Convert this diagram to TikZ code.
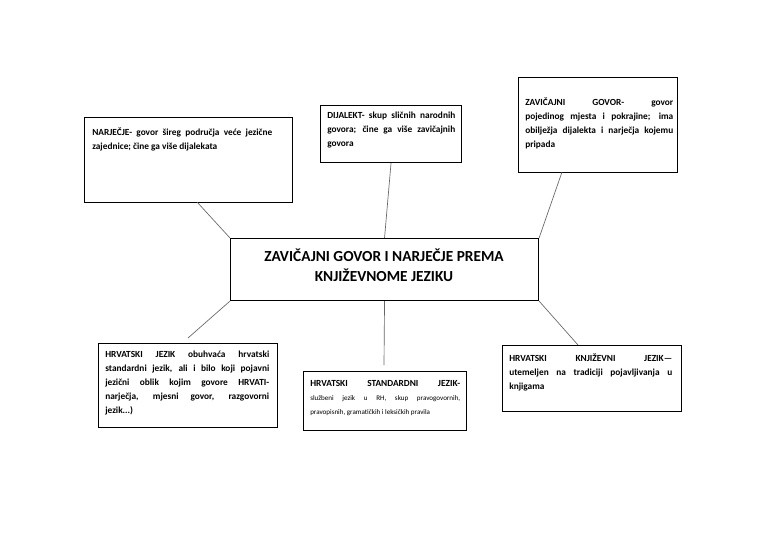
\documentclass[tikz,border=0pt]{standalone}
\usepackage{fontspec}
\setmainfont{Carlito}
\begin{document}
\begin{tikzpicture}[x=0.75pt,y=-0.75pt,
  box/.style={draw,line width=0.8pt,anchor=north west,inner sep=0pt},
  txt/.style={anchor=north west,inner sep=0pt,align=justify,font=\fontsize{7}{10.5}\selectfont\bfseries},
  conn/.style={draw=black!60,line width=0.5pt}]
\useasboundingbox (0,0) rectangle (768,543);
\fill[white] (0,0) rectangle (768,543);
\hyphenpenalty=10000 \exhyphenpenalty=10000
\newcommand\mybox[5]{\node[box,minimum width=#3*0.75pt,minimum height=#4*0.75pt] (#5) at (#1,#2) {};}
\mybox{84}{117}{208}{85}{n}
\mybox{320}{105}{141}{57}{d}
\mybox{518}{77}{159}{95}{z}
\mybox{230}{238}{308}{62}{c}
\mybox{98}{343}{179}{84}{hj}
\mybox{303}{371}{163}{59}{hs}
\mybox{502}{345}{179}{66}{hk}
\node[txt,text width=180*0.75pt] at (92,128) {NARJEČJE- govor šireg područja veće jezične\linebreak zajednice; čine ga više dijalekata};
\node[txt,text width=128*0.75pt] at (327,112) {DIJALEKT- skup sličnih narodnih\linebreak govora; čine ga više zavičajnih\linebreak govora};
\node[txt,text width=148*0.75pt] at (525,98) {ZAVIČAJNI GOVOR- govor\linebreak pojedinog mjesta i pokrajine; ima\linebreak obilježja dijalekta i narječja kojemu\linebreak pripada};
\node[font=\fontsize{11.5}{15}\selectfont\bfseries,align=center] (ct) at (384,265) {ZAVIČAJNI GOVOR I NARJEČJE PREMA\\KNJIŽEVNOME JEZIKU};
\node[txt,text width=164*0.75pt] at (105,351) {HRVATSKI JEZIK obuhvaća hrvatski\linebreak standardni jezik, ali i bilo koji pojavni\linebreak jezični oblik kojim govore HRVATI-\linebreak narječja, mjesni govor, razgovorni\linebreak jezik...)};
\node[txt,text width=150*0.75pt] at (310,380) {HRVATSKI STANDARDNI JEZIK-\linebreak{\fontsize{5.3}{8}\selectfont\mdseries službeni jezik u RH, skup pravogovornih,\linebreak pravopisnih, gramatičkih i leksičkih pravila}};
\node[txt,text width=163*0.75pt] at (509,354) {HRVATSKI KNJIŽEVNI JEZIK—\linebreak utemeljen na tradiciji pojavljivanja u\linebreak knjigama};
\draw[conn] (197,202) -- (c.north west);
\draw[conn] (d.south) -- (c.north);
\draw[conn] (562,172) -- (c.north east);
\draw[conn] (c.south west) -- (188,338);
\draw[conn] (c.south) -- (384,365);
\draw[conn] (c.south east) -- (578,345);
\end{tikzpicture}
\end{document}
